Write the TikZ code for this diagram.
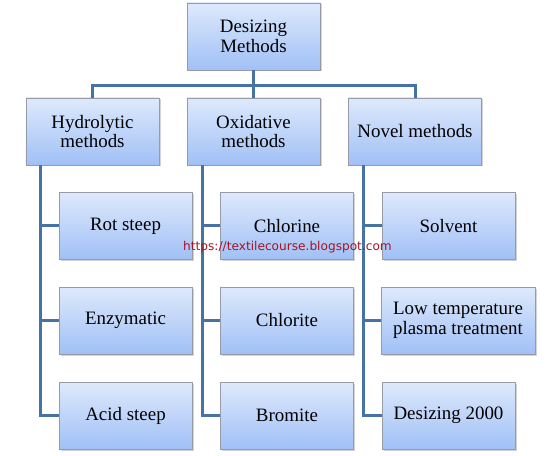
\documentclass[tikz,border=0pt]{standalone}
\usepackage{fontspec}
\setmainfont{Liberation Serif}
\newfontfamily\tnr{Liberation Serif}
\newfontfamily\wmfont{DejaVu Sans}
\usetikzlibrary{shadows}
\definecolor{linec}{RGB}{70,115,165}
\definecolor{boxtop}{RGB}{222,233,252}
\definecolor{boxbot}{RGB}{160,192,246}
\definecolor{boxdraw}{RGB}{150,155,165}
\definecolor{wmred}{RGB}{165,20,35}
\tikzset{
  box/.style={draw=boxdraw, line width=0.8bp, top color=boxtop, bottom color=boxbot,
    minimum width=133bp, minimum height=67bp, align=center, inner sep=0pt,
    font=\tnr\fontsize{19}{20}\selectfont,
    drop shadow={shadow xshift=1.5bp, shadow yshift=-1.5bp, opacity=0.35, fill=gray}},
  conn/.style={draw=linec, line width=3bp},
}
\begin{document}
\begin{tikzpicture}[x=1bp,y=-1bp]
\useasboundingbox (0,0) rectangle (560,456);
\node[box] (top) at (253.5,36.5) {Desizing\\Methods};
\node[box] (hyd) at (92.5,131.5) {Hydrolytic\\methods};
\node[box] (oxi) at (253.5,131.5) {Oxidative\\methods};
\node[box] (nov) at (415,131.5) {Novel methods};
\node[box] (rot) at (125.5,226) {Rot steep};
\node[box] (enz) at (125.5,320.5) {Enzymatic};
\node[box] (aci) at (125.5,415.5) {Acid steep};
\node[box] (chl) at (287,226) {Chlorine};
\node[box] (clt) at (287,320.5) {Chlorite};
\node[box] (bro) at (287,415.5) {Bromite};
\node[box] (sol) at (448.5,226) {Solvent};
\node[box, minimum width=154bp] (low) at (458,320.5) {Low temperature\\plasma treatment};
\node[box] (d2k) at (448.5,415.5) {Desizing 2000};
\coordinate (bus) at (253.5,86);
\draw[conn] (top.south) -- (bus);
\draw[conn] (hyd.north) |- (bus) -| (nov.north);
\draw[conn] (oxi.north) -- (bus);
\coordinate (hv) at (40,165);
\coordinate (ov) at (202,165);
\coordinate (nv) at (363,165);
\draw[conn] (hv) |- (aci.west);
\draw[conn] (hv |- rot.west) -- (rot.west);
\draw[conn] (hv |- enz.west) -- (enz.west);
\draw[conn] (ov) |- (bro.west);
\draw[conn] (ov |- chl.west) -- (chl.west);
\draw[conn] (ov |- clt.west) -- (clt.west);
\draw[conn] (nv) |- (d2k.west);
\draw[conn] (nv |- sol.west) -- (sol.west);
\draw[conn] (nv |- low.west) -- (low.west);
\node[anchor=base west, inner sep=0pt, text=wmred, font=\wmfont\fontsize{12.2}{14}\selectfont] (wm) at (183,251) {https://textilecourse.blogspot.com};
\end{tikzpicture}
\end{document}
